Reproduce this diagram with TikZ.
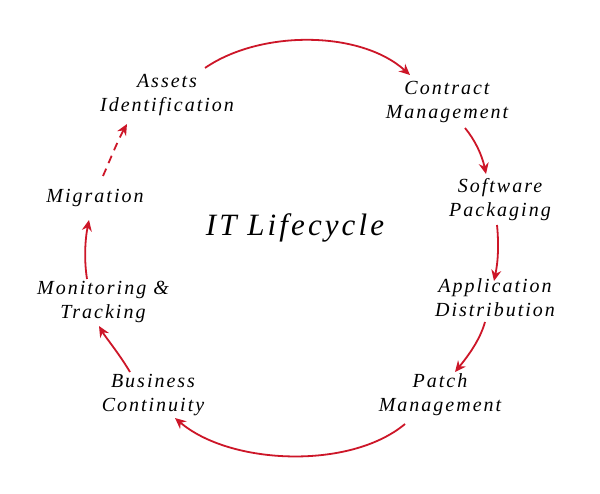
\documentclass[tikz,border=0pt]{standalone}
\usepackage{fontspec}
\setmainfont{Liberation Serif}[LetterSpace=10]
\usetikzlibrary{arrows.meta}
\definecolor{arr}{RGB}{205,22,40}
\begin{document}
\begin{tikzpicture}[x=1pt,y=-1pt,
  lbl/.style={font=\fontsize{20}{24}\selectfont\itshape, align=center, inner sep=0pt, text=black},
  conn/.style={draw=arr, line width=1.8pt, -{Stealth[length=11pt,width=10pt]}}]
\useasboundingbox[fill=white] (0,0) rectangle (600,494);
\node[lbl] (ai) at (167,95) {Assets\\Identification};
\node[lbl] (cm) at (447,102) {Contract\\Management};
\node[lbl] (sp) at (500,200) {Software\\Packaging};
\node[lbl] (ad) at (495,298) {Application\\Distribution};
\node[lbl] (pm) at (440,395) {Patch\\Management};
\node[lbl] (bc) at (153,395) {Business\\Continuity};
\node[lbl] (mt) at (103,302) {Monitoring \&\\Tracking};
\node[lbl] (mi) at (95,198) {Migration};
\node[lbl, font=\fontsize{31}{34}\selectfont\itshape] (it) at (295,228) {IT Lifecycle};
\coordinate (a1) at (205,68); \coordinate (a2) at (410,75);
\coordinate (b1) at (465,128); \coordinate (b2) at (486,174);
\coordinate (c1) at (497,225); \coordinate (c2) at (494,281);
\coordinate (d1) at (485,322); \coordinate (d2) at (455,372);
\coordinate (e1) at (405,424); \coordinate (e2) at (175,418);
\coordinate (f1) at (130,372); \coordinate (f2) at (99,326);
\coordinate (g1) at (87,279); \coordinate (g2) at (89,220);
\coordinate (h1) at (103,176); \coordinate (h2) at (127,124);
\draw[conn] (a1) .. controls (260,30) and (360,30) .. (a2);
\draw[conn] (b1) .. controls (475,140) and (482,155) .. (b2);
\draw[conn] (c1) .. controls (499,245) and (498,262) .. (c2);
\draw[conn] (d1) .. controls (480,340) and (468,356) .. (d2);
\draw[conn] (e1) .. controls (350,470) and (230,465) .. (e2);
\draw[conn] (f1) .. controls (118,352) and (106,338) .. (f2);
\draw[conn] (g1) .. controls (84,260) and (85,240) .. (g2);
\draw[conn, dash pattern=on 8pt off 6pt] (h1) .. controls (110,160) and (118,140) .. (h2);
\end{tikzpicture}
\end{document}
